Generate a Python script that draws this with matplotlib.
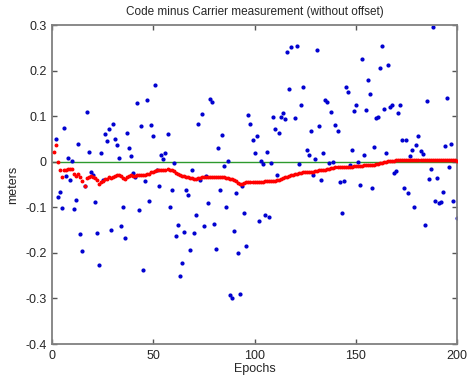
import matplotlib as mpl
mpl.use('Agg')
import numpy as np
import matplotlib.pyplot as plt

plt.rcParams['font.family'] = ['Liberation Sans', 'DejaVu Sans']

TITLE = "Code minus Carrier measurement (without offset)"
XTICKS = [0, 50, 100, 150, 200]
YTICKS = [-0.4, -0.3, -0.2, -0.1, 0, 0.1, 0.2, 0.3]
YTICKLABELS = ['-0.4', '-0.3', '-0.2', '-0.1', '0', '0.1', '0.2', '0.3']

# raw code-minus-carrier (blue dots), epoch -> meters
cmc_epoch = [2, 3, 4, 5, 6, 7, 8, 9, 10, 11, 12, 13, 14, 15, 16, 17, 18, 19, 20,
             21, 22, 23, 24, 25, 26, 27, 28, 29, 30, 31, 32, 33, 34, 35, 36, 37, 38, 39, 40,
             41, 42, 43, 44, 45, 46, 47, 48, 49, 50, 51, 52, 53, 54, 55, 56, 57, 58, 59, 60,
             61, 62, 63, 64, 65, 66, 67, 68, 69, 70, 71, 72, 73, 74, 75, 76, 77, 78, 79, 80,
             81, 82, 83, 84, 85, 86, 87, 88, 89, 90, 91, 92, 93, 94, 95, 96, 97, 98, 99, 100,
             101, 102, 103, 104, 105, 106, 107, 108, 109, 110, 111, 112, 113, 114, 115, 116, 117, 118, 120,
             121, 122, 123, 124, 126, 127, 128, 129, 130, 131, 132, 133, 134, 135, 136, 137, 138, 139, 140,
             141, 142, 143, 144, 145, 146, 147, 148, 149, 150, 151, 152, 153, 154, 155, 156, 157, 158, 159, 160,
             161, 162, 163, 164, 165, 166, 167, 168, 169, 170, 171, 172, 173, 174, 175, 176, 177, 178, 179, 180,
             181, 182, 183, 184, 185, 186, 187, 188, 189, 190, 191, 192, 193, 194, 195, 196, 197, 198, 200]
cmc_val = [0.050, -0.078, -0.067, -0.102, 0.075, -0.031, 0.008, -0.039, 0.001,
           -0.104, -0.083, 0.040, -0.158, -0.195, -0.053, 0.110, 0.021, -0.023, -0.029,
           -0.089, -0.156, -0.226, 0.020, -0.040, 0.061, 0.045, 0.072, -0.149, 0.083,
           0.049, 0.037, 0.008, -0.141, -0.099, -0.167, 0.064, 0.030, 0.012, -0.025,
           -0.034, 0.129, -0.105, 0.079, -0.238, -0.042, 0.135, -0.085, 0.081, 0.057,
           0.168, -0.018, -0.052, 0.015, 0.006, 0.020, 0.062, -0.099, -0.061, -0.003,
           -0.163, -0.138, -0.251, -0.223, -0.153, -0.061, -0.072, -0.194, -0.018, -0.157,
           -0.117, 0.084, -0.041, 0.105, -0.140, -0.032, -0.090, 0.138, 0.132, -0.136,
           -0.191, 0.030, -0.061, 0.059, -0.010, -0.100, 0.002, -0.292, -0.298, -0.151,
           -0.069, -0.200, -0.290, -0.054, -0.113, -0.185, 0.103, 0.084, 0.047, 0.019,
           0.056, -0.129, 0.001, -0.004, -0.116, 0.021, -0.122, -0.003, 0.098, 0.072,
           -0.030, 0.064, 0.099, 0.107, 0.094, 0.241, 0.159, 0.252, 0.096,
           0.255, -0.004, 0.124, 0.165, 0.026, 0.015, 0.067, -0.030, 0.007,
           0.245, 0.079, -0.041, 0.020, 0.136, 0.132, -0.003, 0.110, 0.000, 0.081,
           0.067, -0.045, -0.112, -0.042, 0.165, 0.154, -0.008, 0.026, 0.112, 0.124,
           0.000, -0.050, 0.225, 0.015, 0.113, 0.180, 0.148, -0.057, 0.033, 0.097,
           0.099, 0.205, 0.255, 0.117, 0.020, 0.213, 0.121, 0.124, -0.025, -0.020,
           0.108, 0.124, 0.048, -0.057, 0.048, -0.068, 0.013, 0.027, -0.100, 0.037,
           0.057, 0.023, 0.018, -0.138, 0.134, -0.037, -0.015, 0.297, -0.085, -0.035,
           -0.091, -0.089, -0.066, 0.034, 0.140, -0.012, 0.039, -0.085, -0.123]

# smoothed value (red dots), one per epoch 1..200
smooth_val = [0.022, 0.036, -0.001, -0.017, -0.034, -0.017, -0.018, -0.016, -0.015, -0.016,
              -0.026, -0.032, -0.027, -0.034, -0.042, -0.052, -0.035, -0.034, -0.032, -0.034,
              -0.035, -0.040, -0.048, -0.045, -0.042, -0.038, -0.037, -0.034, -0.036, -0.033,
              -0.031, -0.028, -0.028, -0.032, -0.035, -0.037, -0.034, -0.031, -0.030, -0.032,
              -0.032, -0.030, -0.029, -0.028, -0.030, -0.029, -0.026, -0.026, -0.023, -0.022,
              -0.020, -0.018, -0.018, -0.018, -0.018, -0.017, -0.016, -0.018, -0.019, -0.021,
              -0.024, -0.027, -0.029, -0.031, -0.032, -0.034, -0.034, -0.035, -0.036, -0.037,
              -0.037, -0.036, -0.035, -0.034, -0.034, -0.033, -0.033, -0.034, -0.034, -0.034,
              -0.034, -0.034, -0.033, -0.034, -0.034, -0.035, -0.036, -0.037, -0.038, -0.040,
              -0.043, -0.046, -0.048, -0.049, -0.047, -0.045, -0.044, -0.045, -0.044, -0.044,
              -0.044, -0.044, -0.044, -0.044, -0.043, -0.043, -0.043, -0.043, -0.042, -0.042,
              -0.041, -0.039, -0.037, -0.035, -0.034, -0.033, -0.031, -0.030, -0.029, -0.027,
              -0.026, -0.024, -0.024, -0.023, -0.023, -0.023, -0.023, -0.023, -0.022, -0.021,
              -0.020, -0.019, -0.019, -0.018, -0.017, -0.016, -0.015, -0.014, -0.013, -0.012,
              -0.012, -0.012, -0.012, -0.012, -0.012, -0.012, -0.011, -0.011, -0.010, -0.010,
              -0.010, -0.009, -0.009, -0.008, -0.008, -0.007, -0.007, -0.006, -0.006, -0.005,
              -0.004, -0.003, -0.002, -0.001, 0.000, 0.001, 0.001, 0.002, 0.002, 0.003,
              0.003, 0.004, 0.004, 0.003, 0.003, 0.003, 0.004, 0.003, 0.003, 0.003,
              0.003, 0.004, 0.003, 0.003, 0.004, 0.004, 0.004, 0.004, 0.004, 0.003,
              0.003, 0.003, 0.003, 0.003, 0.004, 0.004, 0.004, 0.003, 0.003, 0.002]
smooth_epoch = np.arange(1, len(smooth_val) + 1)

fig = plt.figure(figsize=(4.74, 3.81), dpi=100)
ax = fig.add_axes([0.110, 0.097, 0.854, 0.837])

ax.axhline(0, color='#2e9a2e', lw=1.0, zorder=1)
ax.plot(cmc_epoch, cmc_val, '.', color='#0000d0', ms=4.0, zorder=2)
ax.plot(smooth_epoch, smooth_val, '.', color='#ff0000', ms=3.6, zorder=3)

ax.set_xlim(0, 200)
ax.set_ylim(-0.4, 0.3)
ax.set_xticks(XTICKS)
ax.set_yticks(YTICKS)
ax.set_yticklabels(YTICKLABELS)
ax.tick_params(direction='in', length=3.5, width=1, color='#555555',
               top=True, right=True, labelsize=9, labelcolor='#262626', pad=4)
for s in ax.spines.values():
    s.set_color('#808080')
    s.set_linewidth(1.3)

ax.set_title(TITLE, fontsize=8.5, color='#262626', pad=7)
ax.set_xlabel('Epochs', fontsize=9, color='#262626', labelpad=1)
ax.set_ylabel('meters', fontsize=9, color='#262626', labelpad=4)

plt.savefig('out.png', dpi=100)
